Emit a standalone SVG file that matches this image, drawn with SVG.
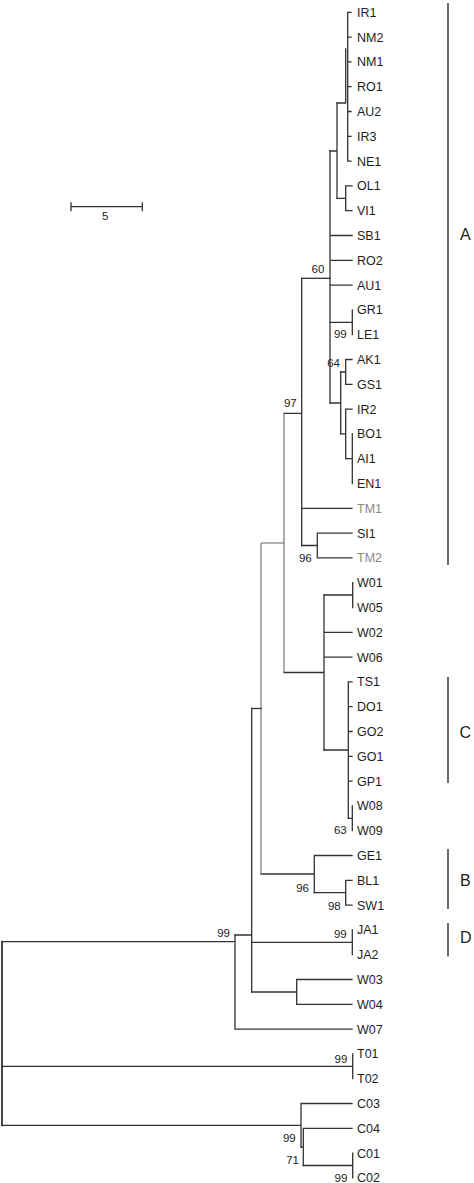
<svg xmlns="http://www.w3.org/2000/svg" width="474" height="1183" viewBox="0 0 474 1183">
<style>
.e{fill:none;stroke:#333;stroke-width:1.3;stroke-linecap:square}
.l{fill:none;stroke:#6a6a6a;stroke-width:1.1}
.t{font-family:"Liberation Sans",Arial,sans-serif;font-size:12.5px;fill:#1e1e1e}
.g{fill:#8a8a8a}
.b{font-family:"Liberation Sans",Arial,sans-serif;font-size:11.5px;fill:#222;text-anchor:end}
.bar{fill:none;stroke:#444;stroke-width:1.6}
.c{font-family:"Liberation Sans",Arial,sans-serif;font-size:16px;fill:#1e1e1e}
</style>
<rect width="474" height="1183" fill="#fff"/>
<g id="connectors">
<path class="e" d="M347.7 12.3V161.1M347.7 12.3H351M347.7 37.1H351M347.7 61.9H351M347.7 86.7H351M347.7 111.5H351M347.7 136.3H351M347.7 161.1H351"/>
<path class="e" d="M345.7 49V103M337 103H345.7"/>
<path class="e" d="M345.7 185.9V210.7M345.7 185.9H352M345.7 210.7H352M337 198.3H345.7"/>
<path class="e" d="M337 103V198.3M330 151H337"/>
<path class="e" d="M330 151V403M330 235.5H352M330 260.3H352M330 285.1H352"/>
<path class="e" d="M352.3 309.9V334.7M330 322.3H352.3"/>
<path class="e" d="M345.7 359.5V384.3M345.7 359.5H352M345.7 384.3H352M340.7 372H345.7"/>
<path class="e" d="M352.3 433.9V483.5M345.7 458.7H352.3"/>
<path class="e" d="M345.7 409.1V458.7M345.7 409.1H352M340.7 433.9H345.7"/>
<path class="e" d="M340.7 372V433.9M330 403H340.7"/>
<path class="e" d="M301.7 278.3H330"/>
<path class="e" d="M317.3 533.1V557.9M317.3 533.1H352M317.3 557.9H352M301.7 545.5H317.3"/>
<path class="e" d="M301.7 278.3V545.5M301.7 508.3H352M284 413.3H301.7"/>
<path class="e" d="M352.7 582.7V607.5M324 595H352.7"/>
<path class="e" d="M352.3 805.9V830.7M348.3 818.3H352.3"/>
<path class="e" d="M348.3 681.9V818.3M348.3 681.9H352M348.3 706.7H352M348.3 731.5H352M348.3 756.3H352M348.3 781.1H352M324 750H348.3"/>
<path class="e" d="M324 595V750M324 632.3H352M324 657.1H352M284 672.5H324"/>
<path class="l" d="M284 413.3V672.5M261 543H284"/>
<path class="e" d="M345.7 880.3V905.1M345.7 880.3H352M345.7 905.1H352M314.3 892.7H345.7"/>
<path class="e" d="M314.3 855.5V892.7M314.3 855.5H352M261 874H314.3"/>
<path class="l" d="M261 543V874"/>
<path class="e" d="M251.7 708.5H261"/>
<path class="e" d="M352.3 929.9V954.7M251.7 942.3H352.3"/>
<path class="e" d="M296.7 979.5V1004.3M296.7 979.5H352M296.7 1004.3H352M251.7 992H296.7"/>
<path class="e" d="M251.7 708.5V992M235 935H251.7"/>
<path class="e" d="M235 935V1029.1M235 1029.1H352M2 941.7H235"/>
<path class="e" d="M352.7 1053.9V1078.7M2 1066.3H352.7"/>
<path class="e" d="M352.7 1153.1V1177.9M303.3 1165.5H352.7"/>
<path class="e" d="M303.3 1128.3V1165.5M303.3 1128.3H352M301 1147H303.3"/>
<path class="e" d="M301 1103.5V1147M301 1103.5H352M2 1125.3H301"/>
<path class="e" d="M2 941.7V1125.3" style="stroke-width:1.8"/>
</g>
<g id="leaves">
<g id="IR1"><text class="t" x="357" y="16.8">IR1</text></g>
<g id="NM2"><text class="t" x="357" y="41.6">NM2</text></g>
<g id="NM1"><text class="t" x="357" y="66.4">NM1</text></g>
<g id="RO1"><text class="t" x="357" y="91.2">RO1</text></g>
<g id="AU2"><text class="t" x="357" y="116">AU2</text></g>
<g id="IR3"><text class="t" x="357" y="140.8">IR3</text></g>
<g id="NE1"><text class="t" x="357" y="165.6">NE1</text></g>
<g id="OL1"><text class="t" x="357" y="190.4">OL1</text></g>
<g id="VI1"><text class="t" x="357" y="215.2">VI1</text></g>
<g id="SB1"><text class="t" x="357" y="240">SB1</text></g>
<g id="RO2"><text class="t" x="357" y="264.8">RO2</text></g>
<g id="AU1"><text class="t" x="357" y="289.6">AU1</text></g>
<g id="GR1"><text class="t" x="357" y="314.4">GR1</text></g>
<g id="LE1"><text class="t" x="357" y="339.2">LE1</text></g>
<g id="AK1"><text class="t" x="357" y="364">AK1</text></g>
<g id="GS1"><text class="t" x="357" y="388.8">GS1</text></g>
<g id="IR2"><text class="t" x="357" y="413.6">IR2</text></g>
<g id="BO1"><text class="t" x="357" y="438.4">BO1</text></g>
<g id="AI1"><text class="t" x="357" y="463.2">AI1</text></g>
<g id="EN1"><text class="t" x="357" y="488">EN1</text></g>
<g id="TM1"><text class="t g" x="357" y="512.8">TM1</text></g>
<g id="SI1"><text class="t" x="357" y="537.6">SI1</text></g>
<g id="TM2"><text class="t g" x="357" y="562.4">TM2</text></g>
<g id="W01"><text class="t" x="357" y="587.2">W01</text></g>
<g id="W05"><text class="t" x="357" y="612">W05</text></g>
<g id="W02"><text class="t" x="357" y="636.8">W02</text></g>
<g id="W06"><text class="t" x="357" y="661.6">W06</text></g>
<g id="TS1"><text class="t" x="357" y="686.4">TS1</text></g>
<g id="DO1"><text class="t" x="357" y="711.2">DO1</text></g>
<g id="GO2"><text class="t" x="357" y="736">GO2</text></g>
<g id="GO1"><text class="t" x="357" y="760.8">GO1</text></g>
<g id="GP1"><text class="t" x="357" y="785.6">GP1</text></g>
<g id="W08"><text class="t" x="357" y="810.4">W08</text></g>
<g id="W09"><text class="t" x="357" y="835.2">W09</text></g>
<g id="GE1"><text class="t" x="357" y="860">GE1</text></g>
<g id="BL1"><text class="t" x="357" y="884.8">BL1</text></g>
<g id="SW1"><text class="t" x="357" y="909.6">SW1</text></g>
<g id="JA1"><text class="t" x="357" y="934.4">JA1</text></g>
<g id="JA2"><text class="t" x="357" y="959.2">JA2</text></g>
<g id="W03"><text class="t" x="357" y="984">W03</text></g>
<g id="W04"><text class="t" x="357" y="1008.8">W04</text></g>
<g id="W07"><text class="t" x="357" y="1033.6">W07</text></g>
<g id="T01"><text class="t" x="357" y="1058.4">T01</text></g>
<g id="T02"><text class="t" x="357" y="1083.2">T02</text></g>
<g id="C03"><text class="t" x="357" y="1108">C03</text></g>
<g id="C04"><text class="t" x="357" y="1132.8">C04</text></g>
<g id="C01"><text class="t" x="357" y="1157.6">C01</text></g>
<g id="C02"><text class="t" x="357" y="1182">C02</text></g>
</g>
<g id="bootstrap">
<text class="b" x="324.3" y="273.3">60</text>
<text class="b" x="346.7" y="338.3">99</text>
<text class="b" x="340" y="366.7">64</text>
<text class="b" x="296.7" y="407.3">97</text>
<text class="b" x="311.7" y="562.3">96</text>
<text class="b" x="346.7" y="834">63</text>
<text class="b" x="309" y="891.5">96</text>
<text class="b" x="340.7" y="910">98</text>
<text class="b" x="346.7" y="938">99</text>
<text class="b" x="230" y="936.7">99</text>
<text class="b" x="347.3" y="1063">99</text>
<text class="b" x="295.7" y="1141.5">99</text>
<text class="b" x="299" y="1164">71</text>
<text class="b" x="347.3" y="1182">99</text>
</g>
<g id="clade-A"><path class="bar" d="M448 3V565"/><text class="c" x="460" y="239.5">A</text></g>
<g id="clade-C"><path class="bar" d="M448 677V783"/><text class="c" x="459.5" y="738">C</text></g>
<g id="clade-B"><path class="bar" d="M448 849V909"/><text class="c" x="460" y="886">B</text></g>
<g id="clade-D"><path class="bar" d="M448 923V956.5"/><text class="c" x="460" y="943">D</text></g>
<g id="scale-bar">
<path class="e" d="M71 206.7H142.3M71 203V210.5M142.3 203V210.5"/>
<text class="b" x="108.5" y="219.5">5</text>
</g>
</svg>
